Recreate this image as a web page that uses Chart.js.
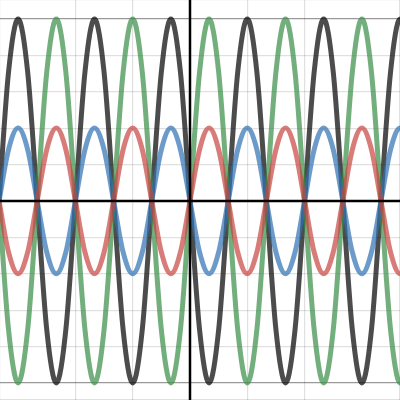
<!DOCTYPE html>
<html><head><meta charset="utf-8">
<script src="https://cdn.jsdelivr.net/npm/chart.js@4"></script>
<style>html,body{margin:0;padding:0;background:#fff;overflow:hidden}</style>
</head><body>
<canvas id="c" width="400" height="400"></canvas>
<script>
const xs = [-3.5,-3.333,-3.167,-3,-2.833,-2.667,-2.5,-2.333,-2.167,-2,-1.833,-1.667,-1.5,-1.333,-1.167,-1,-0.833,-0.667,-0.5,-0.333,-0.167,0,0.167,0.333,0.5,0.667,0.833,1,1.167,1.333,1.5,1.667,1.833,2,2.167,2.333,2.5,2.667,2.833,3,3.167,3.333,3.5,3.667,3.833];
const blueVals = [-1.41,0,1.41,2,1.41,0,-1.41,-2, -1.41,0,1.41,2,1.41,0,-1.41,-2, -1.41,0,1.41,2,1.41,0,-1.41,-2, -1.41,0,1.41,2,1.41,0,-1.41,-2, -1.41,0,1.41,2,1.41,0,-1.41,-2, -1.41,0,1.41,2,1.41];
const redVals = [1.41,0,-1.41,-2,-1.41,0,1.41,2, 1.41,0,-1.41,-2,-1.41,0,1.41,2, 1.41,0,-1.41,-2,-1.41,0,1.41,2, 1.41,0,-1.41,-2,-1.41,0,1.41,2, 1.41,0,-1.41,-2,-1.41,0,1.41,2, 1.41,0,-1.41,-2,-1.41];
const blackVals = [-3.54,0,3.54,5,3.54,0,-3.54,-5, -3.54,0,3.54,5,3.54,0,-3.54,-5, -3.54,0,3.54,5,3.54,0,-3.54,-5, -3.54,0,3.54,5,3.54,0,-3.54,-5, -3.54,0,3.54,5,3.54,0,-3.54,-5, -3.54,0,3.54,5,3.54];
const greenVals = [3.54,0,-3.54,-5,-3.54,0,3.54,5, 3.54,0,-3.54,-5,-3.54,0,3.54,5, 3.54,0,-3.54,-5,-3.54,0,3.54,5, 3.54,0,-3.54,-5,-3.54,0,3.54,5, 3.54,0,-3.54,-5,-3.54,0,3.54,5, 3.54,0,-3.54,-5,-3.54];

const pts = v => xs.map((x,i)=>({x:x,y:v[i]}));
const ds = (v,c) => ({data:pts(v),borderColor:c,borderWidth:5,pointRadius:0,fill:false,cubicInterpolationMode:'monotone'});

const axesPlugin = {id:'axes',afterDatasetsDraw(ch){
  const {ctx,chartArea:a,scales:{x,y}} = ch;
  ctx.save();ctx.strokeStyle='#000';ctx.lineWidth=2.5;
  const px=x.getPixelForValue(0), py=y.getPixelForValue(0);
  ctx.beginPath();ctx.moveTo(px,a.top);ctx.lineTo(px,a.bottom);
  ctx.moveTo(a.left,py);ctx.lineTo(a.right,py);ctx.stroke();ctx.restore();
}};

new Chart(document.getElementById('c'),{
  type:'line',
  data:{datasets:[ds(redVals,'rgba(199,68,64,0.7)'),ds(blueVals,'rgba(45,112,179,0.7)'),ds(greenVals,'rgba(56,140,70,0.7)'),ds(blackVals,'rgba(0,0,0,0.7)')]},
  options:{responsive:false,animation:false,layout:{padding:0},
    plugins:{legend:{display:false},tooltip:{enabled:false}},
    scales:{
      x:{type:'linear',min:-3.316,max:3.665,ticks:{display:false,stepSize:1},border:{display:false},
        grid:{color:'rgba(0,0,0,0.12)',lineWidth:1.2,drawTicks:false}},
      y:{type:'linear',min:-5.47,max:5.52,ticks:{display:false,stepSize:1},border:{display:false},
        grid:{color:c=>Math.abs(c.tick.value)===5?'rgba(0,0,0,0.4)':'rgba(0,0,0,0.12)',lineWidth:1.2,drawTicks:false}}
    }},
  plugins:[axesPlugin]
});
</script></body></html>
